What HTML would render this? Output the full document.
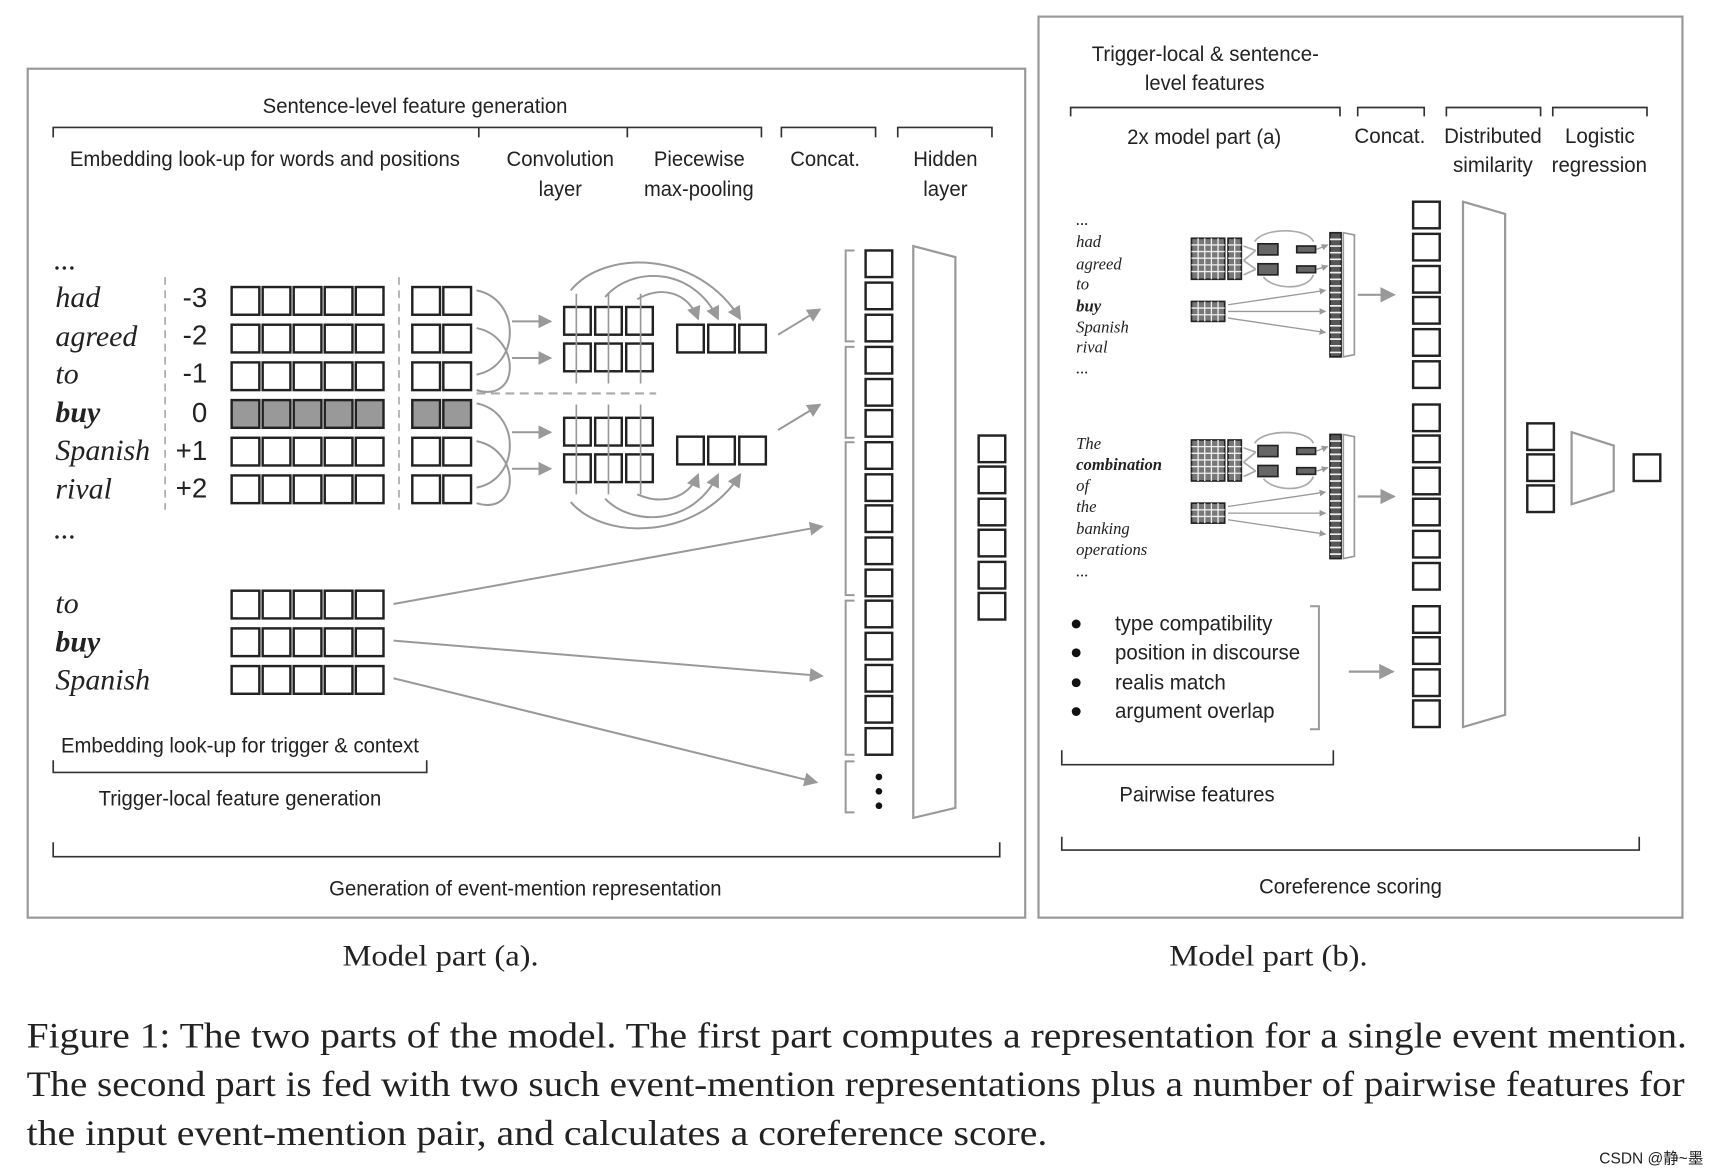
<!DOCTYPE html>
<html><head><meta charset="utf-8"><style>
html,body{margin:0;padding:0;background:#fff;}
svg{display:block}
text{font-family:"Liberation Sans",sans-serif;fill:#222}
.s{font-family:"Liberation Serif",serif}
.it{font-family:"Liberation Serif",serif;font-style:italic}
</style></head><body>
<svg width="1729" height="1171" viewBox="0 0 1560 1056.6" preserveAspectRatio="none" xmlns="http://www.w3.org/2000/svg">
<defs>
<marker id="ah" viewBox="0 0 10 10" refX="9" refY="5" markerWidth="7" markerHeight="7" orient="auto"><path d="M0,0 L10,5 L0,10 z" fill="#999"/></marker>
<marker id="as" viewBox="0 0 10 10" refX="9" refY="5" markerWidth="5" markerHeight="5" orient="auto"><path d="M0,0 L10,5 L0,10 z" fill="#999"/></marker>
<g id="row5"><rect x="0" y="0" width="25" height="25"/><rect x="28" y="0" width="25" height="25"/><rect x="56" y="0" width="25" height="25"/><rect x="84" y="0" width="25" height="25"/><rect x="112" y="0" width="25" height="25"/></g>
<g id="row2"><rect x="0" y="0" width="25" height="25"/><rect x="28" y="0" width="25" height="25"/></g>
<g id="row3"><rect x="0" y="0" width="24" height="25"/><rect x="28" y="0" width="24" height="25"/><rect x="56" y="0" width="24" height="25"/></g>
<g id="cell"><rect x="0" y="0" width="24" height="24"/></g>
<g id="mini" stroke="#222" stroke-width="1.5" fill="#fff">
  <rect x="1075" y="215" width="30" height="37" fill="#777"/>
  <path d="M1075,221H1105M1075,227H1105M1075,233H1105M1075,239H1105M1075,245H1105M1081,215V252M1087,215V252M1093,215V252M1099,215V252" fill="none" stroke="#eee" stroke-width="1.2"/>
  <rect x="1108" y="215" width="12" height="37" fill="#777"/>
  <path d="M1108,221H1120M1108,227H1120M1108,233H1120M1108,239H1120M1108,245H1120M1114,215V252" fill="none" stroke="#eee" stroke-width="1.2"/>
  <rect x="1135" y="220" width="18" height="10" fill="#666"/>
  <rect x="1135" y="238" width="18" height="10" fill="#666"/>
  <rect x="1170" y="222" width="17" height="6" fill="#666"/><rect x="1170" y="240" width="17" height="6" fill="#666"/>
  <path d="M1132,218 C1140,205 1180,205 1185,218 M1140,250 C1150,262 1180,262 1185,248" stroke="#aaa" fill="none"/>
  <path d="M1122,222 L1133,226 M1122,235 L1133,226 M1122,235 L1133,243 M1122,248 L1133,243" stroke="#aaa" fill="none"/>
  <rect x="1075" y="272" width="30" height="18" fill="#777"/>
  <path d="M1075,278H1105M1075,284H1105M1081,272V290M1087,272V290M1093,272V290M1099,272V290" fill="none" stroke="#eee" stroke-width="1.2"/>
  <g stroke="#999" stroke-width="1.2" fill="none" marker-end="url(#as)">
    <path d="M1108,275 L1196,262"/><path d="M1108,281 L1196,281"/><path d="M1108,287 L1196,300"/>
    <path d="M1188,225 L1198,221"/><path d="M1188,243 L1198,240"/>
  </g>
  <rect x="1200" y="210" width="10" height="112" fill="#555"/>
  <path d="M1200,216H1210M1200,222H1210M1200,228H1210M1200,234H1210M1200,240H1210M1200,246H1210M1200,252H1210M1200,258H1210M1200,264H1210M1200,270H1210M1200,276H1210M1200,282H1210M1200,288H1210M1200,294H1210M1200,300H1210M1200,306H1210M1200,312H1210M1200,318H1210" fill="none" stroke="#eee" stroke-width="1.5"/>
  <path d="M1212,210 L1222,212 L1222,320 L1212,322 Z" stroke="#999"/>
  <path d="M1225,266 L1258,266" stroke="#999" stroke-width="2" fill="none" marker-end="url(#ah)"/>
</g>
</defs>

<rect x="25" y="62" width="900" height="766" fill="none" stroke="#999" stroke-width="2"/>
<rect x="937" y="15" width="581" height="813" fill="none" stroke="#999" stroke-width="2"/>

<g font-size="19" lengthAdjust="spacingAndGlyphs">
<text x="237" y="102" textLength="275" lengthAdjust="spacingAndGlyphs">Sentence-level feature generation</text>
<text x="63" y="150" textLength="352" lengthAdjust="spacingAndGlyphs">Embedding look-up for words and positions</text>
<text x="457" y="150" textLength="97" lengthAdjust="spacingAndGlyphs">Convolution</text>
<text x="486" y="177" textLength="39" lengthAdjust="spacingAndGlyphs">layer</text>
<text x="590" y="150" textLength="82" lengthAdjust="spacingAndGlyphs">Piecewise</text>
<text x="581" y="177" textLength="99" lengthAdjust="spacingAndGlyphs">max-pooling</text>
<text x="713" y="150" textLength="63" lengthAdjust="spacingAndGlyphs">Concat.</text>
<text x="824" y="150" textLength="58" lengthAdjust="spacingAndGlyphs">Hidden</text>
<text x="833" y="177" textLength="40" lengthAdjust="spacingAndGlyphs">layer</text>
</g>
<path d="M48,124V115H687V124M432,115V124M566,115V124M705,124V115H790V124M810,124V115H895V124" fill="none" stroke="#333" stroke-width="1.5"/>

<g font-size="27">
<text class="s" x="48" y="243">...</text>
<text class="it" x="50" y="277">had</text>
<text class="it" x="50" y="312">agreed</text>
<text class="it" x="50" y="346">to</text>
<text class="it" x="50" y="381" font-weight="bold">buy</text>
<text class="it" x="50" y="415">Spanish</text>
<text class="it" x="50" y="450">rival</text>
<text class="s" x="48" y="486">...</text>
<text class="it" x="50" y="553">to</text>
<text class="it" x="50" y="588" font-weight="bold">buy</text>
<text class="it" x="50" y="622">Spanish</text>
</g>
<g font-size="25" text-anchor="end">
<text x="187" y="277">-3</text><text x="187" y="311">-2</text><text x="187" y="345">-1</text>
<text x="187" y="381">0</text><text x="187" y="415">+1</text><text x="187" y="449">+2</text>
</g>
<path d="M149,250V460M360,250V460" stroke="#aaa" stroke-width="1.5" stroke-dasharray="7,5"/>

<g stroke="#222" stroke-width="2.2" fill="#fff">
<use href="#row5" x="209" y="259"/><use href="#row5" x="209" y="293"/><use href="#row5" x="209" y="327"/>
<use href="#row5" x="209" y="361" fill="#999"/><use href="#row5" x="209" y="395"/><use href="#row5" x="209" y="429"/>
<use href="#row2" x="372" y="259"/><use href="#row2" x="372" y="293"/><use href="#row2" x="372" y="327"/>
<use href="#row2" x="372" y="361" fill="#999"/><use href="#row2" x="372" y="395"/><use href="#row2" x="372" y="429"/>
<use href="#row5" x="209" y="533"/><use href="#row5" x="209" y="567"/><use href="#row5" x="209" y="601"/>
<use href="#row3" x="509" y="277"/><use href="#row3" x="509" y="310"/>
<use href="#row3" x="509" y="377"/><use href="#row3" x="509" y="410"/>
<use href="#row3" x="611" y="293"/><use href="#row3" x="611" y="394"/>
</g>
<path d="M520,265V346M549,265V346M578,265V346M520,365V446M549,365V446M578,365V446" stroke="#999" stroke-width="1.5"/>
<path d="M430,355H592" stroke="#aaa" stroke-width="2" stroke-dasharray="8,5"/>
<g stroke="#999" stroke-width="1.8" fill="none">
<path d="M430,262 C470,270 470,330 430,338"/><path d="M430,296 C470,304 470,364 430,352"/>
<path d="M430,364 C470,372 470,432 430,440"/><path d="M430,398 C470,406 470,466 430,454"/>
</g>
<g stroke="#999" stroke-width="1.8" fill="none" marker-end="url(#ah)">
<path d="M462,290 H497"/><path d="M462,323 H497"/><path d="M462,390 H497"/><path d="M462,423 H497"/>
<path d="M515,262 C545,225 630,225 668,288"/><path d="M546,268 C570,240 625,240 648,288"/><path d="M575,270 C595,258 620,262 630,288"/>
<path d="M515,453 C545,488 630,488 668,428"/><path d="M546,450 C570,475 625,475 648,428"/><path d="M575,446 C595,455 620,452 630,428"/>
<path d="M702,302 L740,279"/><path d="M702,388 L740,365"/>
<path d="M355,545 L742,475"/><path d="M355,578 L742,610"/><path d="M355,612 L737,706"/>
</g>

<g stroke="#222" stroke-width="2.2" fill="#fff">
<use href="#cell" x="781" y="226"/><use href="#cell" x="781" y="255"/><use href="#cell" x="781" y="284"/>
<use href="#cell" x="781" y="313"/><use href="#cell" x="781" y="342"/><use href="#cell" x="781" y="370"/>
<use href="#cell" x="781" y="399"/><use href="#cell" x="781" y="428"/><use href="#cell" x="781" y="456"/>
<use href="#cell" x="781" y="485"/><use href="#cell" x="781" y="514"/><use href="#cell" x="781" y="542"/>
<use href="#cell" x="781" y="571"/><use href="#cell" x="781" y="600"/><use href="#cell" x="781" y="628"/>
<use href="#cell" x="781" y="657"/>
<use href="#cell" x="883" y="393"/><use href="#cell" x="883" y="421"/><use href="#cell" x="883" y="450"/>
<use href="#cell" x="883" y="478"/><use href="#cell" x="883" y="507"/><use href="#cell" x="883" y="535"/>
</g>
<circle cx="793" cy="701" r="3" fill="#111"/><circle cx="793" cy="714" r="3" fill="#111"/><circle cx="793" cy="727" r="3" fill="#111"/>
<path d="M771,226H763V308H771M771,313H763V395H771M771,399H763V537H771M771,542H763V681H771M771,687H763V733H771" fill="none" stroke="#999" stroke-width="1.8"/>
<path d="M824,222 L862,232 L862,729 L824,738 Z" fill="none" stroke="#999" stroke-width="2"/>

<g font-size="19">
<text x="55" y="679" textLength="323" lengthAdjust="spacingAndGlyphs">Embedding look-up for trigger &amp; context</text>
<text x="89" y="727" textLength="255" lengthAdjust="spacingAndGlyphs">Trigger-local feature generation</text>
<text x="297" y="808" textLength="354" lengthAdjust="spacingAndGlyphs">Generation of event-mention representation</text>
</g>
<path d="M48,686V697H385V686" fill="none" stroke="#333" stroke-width="1.5"/>
<path d="M48,760V773H902V760" fill="none" stroke="#333" stroke-width="1.5"/>

<g font-size="19">
<text x="985" y="55" textLength="205" lengthAdjust="spacingAndGlyphs">Trigger-local &amp; sentence-</text>
<text x="1033" y="81" textLength="108" lengthAdjust="spacingAndGlyphs">level features</text>
<text x="1017" y="130" textLength="139" lengthAdjust="spacingAndGlyphs">2x model part (a)</text>
<text x="1222" y="129" textLength="64" lengthAdjust="spacingAndGlyphs">Concat.</text>
<text x="1303" y="129" textLength="88" lengthAdjust="spacingAndGlyphs">Distributed</text>
<text x="1311" y="155" textLength="72" lengthAdjust="spacingAndGlyphs">similarity</text>
<text x="1412" y="129" textLength="63" lengthAdjust="spacingAndGlyphs">Logistic</text>
<text x="1400" y="155" textLength="86" lengthAdjust="spacingAndGlyphs">regression</text>
</g>
<path d="M966,105V97H1209V105M1225,105V97H1285V105M1305,105V97H1390V105M1401,105V97H1486V105" fill="none" stroke="#333" stroke-width="1.5"/>

<g font-size="15" fill="#444">
<text class="it" x="971" y="203">...</text>
<text class="it" x="971" y="223">had</text>
<text class="it" x="971" y="243">agreed</text>
<text class="it" x="971" y="261">to</text>
<text class="it" x="971" y="281" font-weight="bold">buy</text>
<text class="it" x="971" y="300">Spanish</text>
<text class="it" x="971" y="318">rival</text>
<text class="it" x="971" y="337">...</text>
<text class="it" x="971" y="405">The</text>
<text class="it" x="971" y="424" font-weight="bold">combination</text>
<text class="it" x="971" y="443">of</text>
<text class="it" x="971" y="462">the</text>
<text class="it" x="971" y="482">banking</text>
<text class="it" x="971" y="501">operations</text>
<text class="it" x="971" y="520">...</text>
</g>
<use href="#mini"/>
<use href="#mini" y="182"/>

<g stroke="#222" stroke-width="2.2" fill="#fff">
<use href="#cell" x="1275" y="182"/><use href="#cell" x="1275" y="211"/><use href="#cell" x="1275" y="240"/>
<use href="#cell" x="1275" y="268"/><use href="#cell" x="1275" y="297"/><use href="#cell" x="1275" y="326"/>
<use href="#cell" x="1275" y="365"/><use href="#cell" x="1275" y="393"/><use href="#cell" x="1275" y="422"/>
<use href="#cell" x="1275" y="450"/><use href="#cell" x="1275" y="479"/><use href="#cell" x="1275" y="508"/>
<use href="#cell" x="1275" y="547"/><use href="#cell" x="1275" y="575"/><use href="#cell" x="1275" y="604"/>
<use href="#cell" x="1275" y="632"/>
<use href="#cell" x="1378" y="382"/><use href="#cell" x="1378" y="410"/><use href="#cell" x="1378" y="438"/>
<use href="#cell" x="1474" y="410"/>
</g>
<path d="M1320,182 L1358,193 L1358,645 L1320,656 Z" fill="none" stroke="#999" stroke-width="2"/>
<path d="M1418,390 L1456,402 L1456,443 L1418,455 Z" fill="none" stroke="#999" stroke-width="2"/>

<g font-size="19">
<circle cx="971" cy="563" r="4" fill="#111"/><text x="1006" y="569" textLength="142" lengthAdjust="spacingAndGlyphs">type compatibility</text>
<circle cx="971" cy="589" r="4" fill="#111"/><text x="1006" y="595" textLength="167" lengthAdjust="spacingAndGlyphs">position in discourse</text>
<circle cx="971" cy="616" r="4" fill="#111"/><text x="1006" y="622" textLength="100" lengthAdjust="spacingAndGlyphs">realis match</text>
<circle cx="971" cy="642" r="4" fill="#111"/><text x="1006" y="648" textLength="144" lengthAdjust="spacingAndGlyphs">argument overlap</text>
<text x="1010" y="723" textLength="140" lengthAdjust="spacingAndGlyphs">Pairwise features</text>
<text x="1136" y="806" textLength="165" lengthAdjust="spacingAndGlyphs">Coreference scoring</text>
</g>
<path d="M1182,547H1190V658H1182" fill="none" stroke="#999" stroke-width="1.8"/>
<path d="M1217,606 L1257,606" stroke="#999" stroke-width="2" marker-end="url(#ah)"/>
<path d="M958,677V690H1203V677" fill="none" stroke="#333" stroke-width="1.5"/>
<path d="M958,755V767H1479V755" fill="none" stroke="#333" stroke-width="1.5"/>

<text class="s" x="309" y="871" font-size="27" textLength="177" lengthAdjust="spacingAndGlyphs">Model part (a).</text>
<text class="s" x="1055" y="871" font-size="27" textLength="179" lengthAdjust="spacingAndGlyphs">Model part (b).</text>
<g font-size="32">
<text class="s" x="24" y="945" textLength="1498" lengthAdjust="spacingAndGlyphs">Figure 1: The two parts of the model. The first part computes a representation for a single event mention.</text>
<text class="s" x="24" y="989" textLength="1496" lengthAdjust="spacingAndGlyphs">The second part is fed with two such event-mention representations plus a number of pairwise features for</text>
<text class="s" x="24" y="1033" textLength="921" lengthAdjust="spacingAndGlyphs">the input event-mention pair, and calculates a coreference score.</text>
</g>
<text x="1443" y="1050" font-size="14" fill="#999" style="font-family:'Liberation Sans','Noto Sans CJK SC',sans-serif">CSDN @静~墨</text>
</svg>
</body></html>
